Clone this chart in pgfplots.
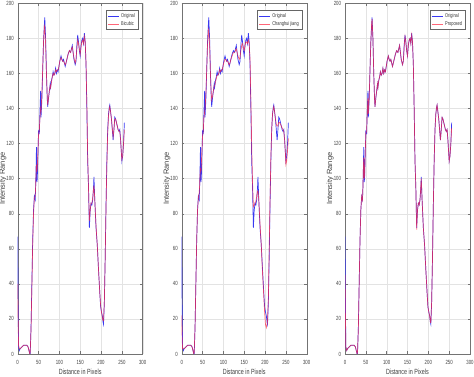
\documentclass[border=0pt]{standalone}
\usepackage{fontspec}
\setmainfont{Liberation Sans}[FakeStretch=0.72]
\newfontfamily\ylfont{Liberation Sans}
\usepackage{pgfplots}
\usepackage{pgfplotstable}
\pgfplotsset{compat=1.18}
\definecolor{origblue}{rgb}{0.22,0.22,0.95}
\definecolor{cmpred}{rgb}{1,0.15,0.25}
\pgfplotstableread{
x o b c p
0 67 40 22 45
1 30 20 10 22
2 4 5 3 4
4 2 3 3 2
6 3 3 3 3
10 4 4 4 4
14 5 5 5 5
18 5 5 5 5
22 5 5 5 5
25 4 4 4 4
27 2 2 2 2
29 0 0 0 0
30 0 1 1 1
32 15 14 15 14
34 40 38 40 40
36 65 63 65 65
38 82 80 82 82
40 90 89 89 90
42 88 90 92 88
43 95 95 96 95
44 105 102 102 105
45 118 108 106 112
46 98 104 104 100
47 100 106 108 102
49 118 118 118 118
50 127 125 124 126
52 126 128 128 127
53 135 133 134 135
55 150 140 138 146
56 135 139 140 137
58 145 148 148 146
60 162 163 162 162
62 178 178 176 178
64 188 187 185 189
65 192 186 184 191
67 180 177 176 180
69 160 160 160 160
71 145 146 148 145
72 141 142 145 141
74 146 146 147 146
76 150 150 150 150
78 154 153 153 154
79 152 152 153 152
81 156 155 155 156
83 158 158 157 158
85 161 160 159 161
87 159 159 159 159
89 160 160 160 160
91 163 162 162 163
93 160 161 161 160
95 162 162 162 162
97 161 162 162 161
99 164 164 164 164
101 167 167 166 167
104 170 169 168 170
106 168 168 168 168
108 167 167 167 167
110 168 167 167 168
112 166 166 166 166
114 164 165 165 164
116 166 166 166 166
118 168 168 168 168
121 171 171 170 171
124 173 173 172 173
127 172 172 172 172
129 174 174 173 174
131 176 175 174 176
133 172 172 172 172
135 168 169 170 168
138 165 166 168 165
140 167 168 169 167
142 176 174 173 175
144 182 179 176 181
146 178 177 177 178
148 173 174 175 173
150 170 171 173 170
152 176 175 176 176
154 179 178 178 179
156 180 179 178 180
158 177 177 177 177
160 183 181 179 182
162 178 178 177 178
164 165 166 168 165
166 140 142 145 140
168 110 112 118 110
170 95 94 98 95
172 72 76 84 71
174 82 82 85 82
176 86 86 86 86
178 85 86 87 85
180 88 89 90 88
182 95 94 93 96
183 101 96 93 100
185 88 88 88 88
188 72 73 74 72
191 62 62 62 62
194 48 48 46 48
197 35 35 33 35
199 27 28 24 27
201 24 24 17 24
203 22 21 15 22
205 18 19 17 18
206 17 19 19 18
208 30 30 32 30
210 55 55 60 55
212 85 84 88 85
214 110 108 112 110
216 128 126 128 128
218 137 136 137 137
220 141 140 140 141
221 142 141 141 142
223 138 138 138 138
225 134 134 134 134
227 128 129 131 128
229 122 124 130 122
231 128 128 130 128
233 135 134 132 135
235 134 134 132 134
237 132 132 131 132
239 130 130 130 130
241 128 128 129 128
243 127 127 128 127
245 128 127 127 128
247 122 122 122 122
249 114 114 114 114
250 110 111 108 110
252 113 113 110 113
254 120 120 116 120
256 132 128 123 129
}\profile
\pgfplotsset{
  panel/.style={
    scale only axis, width=125pt, height=350.7pt,
    anchor=south west,
    xmin=0, xmax=300, ymin=0, ymax=200,
    xtick={0,50,...,300}, ytick={0,20,...,200},
    grid=major, major grid style={gray!22, line width=0.3pt},
    axis line style={black!55, line width=0.4pt},
    tick style={black!55, line width=0.4pt},
    tick align=inside, tick pos=both, major tick length=2.5pt,
    /pgf/number format/assume math mode=true,
    ticklabel style={font=\fontsize{6}{7}\selectfont, text=black!75},
    xticklabel style={anchor=center, yshift=-8pt},
    yticklabel style={xshift=-0.5pt},
    xlabel={Distance in Pixels},
    xlabel style={at={(axis description cs:0.5,-0.0505)}, anchor=center, font=\fontsize{7.5}{8}\selectfont, text=black!75},
    ylabel={Intensity Range},
    ylabel style={at={(axis description cs:-0.1176,0.5)}, anchor=center, font=\ylfont\fontsize{7.5}{8}\selectfont, text=black!75},
    legend style={at={(1,1)}, anchor=north east, xshift=-4.7pt, yshift=-6.7pt,
      draw=black!60, fill=white, font=\fontsize{5.5}{6}\selectfont, text=black!80,
      inner sep=1pt, row sep=-1.5pt, cells={anchor=west}},
    legend image code/.code={\draw[#1] (0pt,0pt) -- (11pt,0pt);},
  },
  orig/.style={origblue, line width=0.7pt},
  cmp/.style={cmpred, line width=0.7pt, opacity=0.7},
}
\begin{document}
\begin{tikzpicture}
\path[use as bounding box] (0,0) rectangle (474pt,377pt);
\clip (0,0) rectangle (474pt,377pt);
\begin{axis}[panel, at={(17.7pt,23pt)}]
\addplot[orig] table[x=x,y=o]{\profile};
\addplot[cmp] table[x=x,y=b]{\profile};
\legend{Original,Bicubic}
\end{axis}
\begin{axis}[panel, at={(181.7pt,23pt)}]
\addplot[orig] table[x=x,y=o]{\profile};
\addplot[cmp] table[x=x,y=c]{\profile};
\legend{Original,Changhui jiang}
\end{axis}
\begin{axis}[panel, at={(345pt,23pt)}]
\addplot[orig] table[x=x,y=o]{\profile};
\addplot[cmp] table[x=x,y=p]{\profile};
\legend{Original,Proposed}
\end{axis}
\end{tikzpicture}
\end{document}
